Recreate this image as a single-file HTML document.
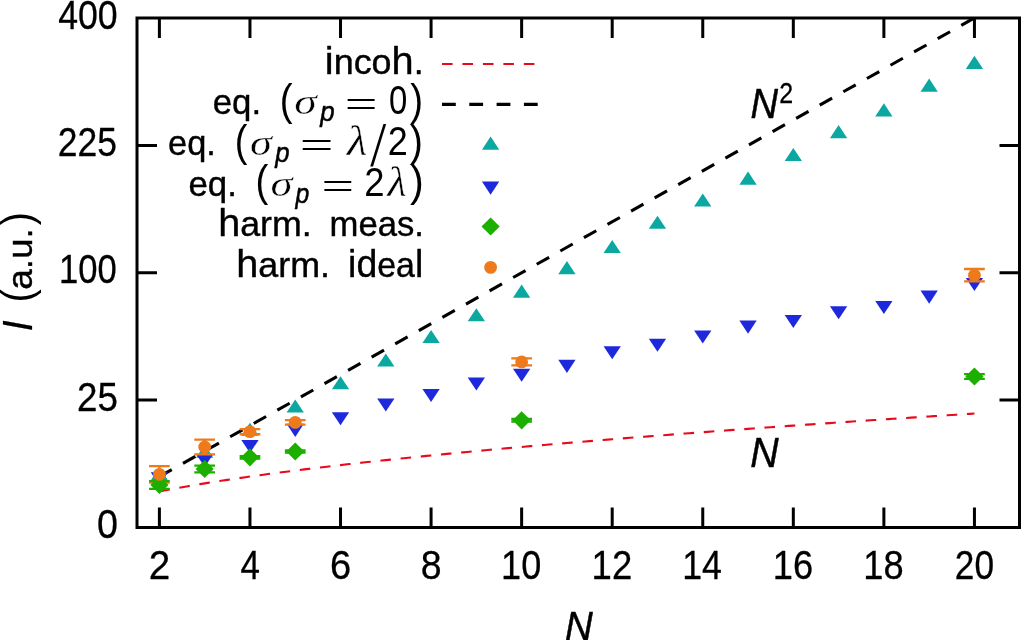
<!DOCTYPE html>
<html><head><meta charset="utf-8"><title>plot</title>
<style>html,body{margin:0;padding:0;background:#fff}svg{display:block}</style></head>
<body><svg width="1021" height="640" viewBox="0 0 1021 640">
<rect width="1021" height="640" fill="#fff"/>
<polyline fill="none" stroke="#e80a1c" stroke-width="2.1" stroke-dasharray="10.6 9.69" points="159.40,491.47 163.93,490.58 168.46,489.71 172.98,488.87 177.51,488.03 182.04,487.22 186.57,486.42 191.10,485.64 195.62,484.87 200.15,484.12 204.68,483.38 209.21,482.65 213.74,481.93 218.26,481.22 222.79,480.53 227.32,479.84 231.85,479.16 236.38,478.50 240.90,477.84 245.43,477.19 249.96,476.55 254.49,475.92 259.02,475.29 263.54,474.67 268.07,474.06 272.60,473.46 277.13,472.86 281.66,472.27 286.18,471.69 290.71,471.11 295.24,470.54 299.77,469.97 304.30,469.41 308.82,468.85 313.35,468.30 317.88,467.76 322.41,467.22 326.94,466.68 331.46,466.15 335.99,465.62 340.52,465.10 345.05,464.58 349.58,464.07 354.10,463.56 358.63,463.05 363.16,462.55 367.69,462.05 372.22,461.56 376.74,461.07 381.27,460.58 385.80,460.10 390.33,459.62 394.86,459.14 399.38,458.67 403.91,458.20 408.44,457.73 412.97,457.27 417.50,456.81 422.02,456.35 426.55,455.90 431.08,455.45 435.61,455.00 440.14,454.55 444.66,454.11 449.19,453.67 453.72,453.23 458.25,452.79 462.78,452.36 467.30,451.93 471.83,451.50 476.36,451.08 480.89,450.65 485.42,450.23 489.94,449.81 494.47,449.40 499.00,448.98 503.53,448.57 508.06,448.16 512.58,447.75 517.11,447.34 521.64,446.94 526.17,446.54 530.70,446.14 535.22,445.74 539.75,445.35 544.28,444.95 548.81,444.56 553.34,444.17 557.86,443.78 562.39,443.39 566.92,443.01 571.45,442.63 575.98,442.24 580.50,441.86 585.03,441.49 589.56,441.11 594.09,440.74 598.62,440.36 603.14,439.99 607.67,439.62 612.20,439.25 616.73,438.89 621.26,438.52 625.78,438.16 630.31,437.79 634.84,437.43 639.37,437.07 643.90,436.71 648.42,436.36 652.95,436.00 657.48,435.65 662.01,435.30 666.54,434.94 671.06,434.59 675.59,434.25 680.12,433.90 684.65,433.55 689.18,433.21 693.70,432.86 698.23,432.52 702.76,432.18 707.29,431.84 711.82,431.50 716.34,431.17 720.87,430.83 725.40,430.49 729.93,430.16 734.46,429.83 738.98,429.50 743.51,429.17 748.04,428.84 752.57,428.51 757.10,428.18 761.62,427.85 766.15,427.53 770.68,427.20 775.21,426.88 779.74,426.56 784.26,426.24 788.79,425.92 793.32,425.60 797.85,425.28 802.38,424.97 806.90,424.65 811.43,424.33 815.96,424.02 820.49,423.71 825.02,423.39 829.54,423.08 834.07,422.77 838.60,422.46 843.13,422.16 847.66,421.85 852.18,421.54 856.71,421.24 861.24,420.93 865.77,420.63 870.30,420.32 874.82,420.02 879.35,419.72 883.88,419.42 888.41,419.12 892.94,418.82 897.46,418.52 901.99,418.22 906.52,417.93 911.05,417.63 915.58,417.34 920.10,417.04 924.63,416.75 929.16,416.46 933.69,416.17 938.22,415.87 942.74,415.58 947.27,415.29 951.80,415.01 956.33,414.72 960.86,414.43 965.38,414.14 969.91,413.86 974.44,413.57"/>
<line x1="159.40" y1="476.55" x2="974.44" y2="18.00" stroke="#000" stroke-width="3.1" stroke-dasharray="14.2 12.86"/>
<polygon fill="#0aa8a0" points="159.40,467.30 150.75,480.40 168.05,480.40"/>
<polygon fill="#0aa8a0" points="204.68,444.60 196.03,457.70 213.33,457.70"/>
<polygon fill="#0aa8a0" points="249.96,422.70 241.31,435.80 258.61,435.80"/>
<polygon fill="#0aa8a0" points="295.24,399.40 286.59,412.50 303.89,412.50"/>
<polygon fill="#0aa8a0" points="340.52,376.20 331.87,389.30 349.17,389.30"/>
<polygon fill="#0aa8a0" points="385.80,353.40 377.15,366.50 394.45,366.50"/>
<polygon fill="#0aa8a0" points="431.08,329.90 422.43,343.00 439.73,343.00"/>
<polygon fill="#0aa8a0" points="476.36,308.20 467.71,321.30 485.01,321.30"/>
<polygon fill="#0aa8a0" points="521.64,284.60 512.99,297.70 530.29,297.70"/>
<polygon fill="#0aa8a0" points="566.92,261.10 558.27,274.20 575.57,274.20"/>
<polygon fill="#0aa8a0" points="612.20,240.00 603.55,253.10 620.85,253.10"/>
<polygon fill="#0aa8a0" points="657.48,215.70 648.83,228.80 666.13,228.80"/>
<polygon fill="#0aa8a0" points="702.76,193.40 694.11,206.50 711.41,206.50"/>
<polygon fill="#0aa8a0" points="748.04,171.60 739.39,184.70 756.69,184.70"/>
<polygon fill="#0aa8a0" points="793.32,148.00 784.67,161.10 801.97,161.10"/>
<polygon fill="#0aa8a0" points="838.60,125.10 829.95,138.20 847.25,138.20"/>
<polygon fill="#0aa8a0" points="883.88,103.30 875.23,116.40 892.53,116.40"/>
<polygon fill="#0aa8a0" points="929.16,78.60 920.51,91.70 937.81,91.70"/>
<polygon fill="#0aa8a0" points="974.44,55.80 965.79,68.90 983.09,68.90"/>
<polygon fill="#1e28dc" points="159.40,485.30 150.75,472.20 168.05,472.20"/>
<polygon fill="#1e28dc" points="204.68,467.10 196.03,454.00 213.33,454.00"/>
<polygon fill="#1e28dc" points="249.96,453.00 241.31,439.90 258.61,439.90"/>
<polygon fill="#1e28dc" points="295.24,436.90 286.59,423.80 303.89,423.80"/>
<polygon fill="#1e28dc" points="340.52,425.30 331.87,412.20 349.17,412.20"/>
<polygon fill="#1e28dc" points="385.80,411.50 377.15,398.40 394.45,398.40"/>
<polygon fill="#1e28dc" points="431.08,402.10 422.43,389.00 439.73,389.00"/>
<polygon fill="#1e28dc" points="476.36,390.60 467.71,377.50 485.01,377.50"/>
<polygon fill="#1e28dc" points="521.64,381.80 512.99,368.70 530.29,368.70"/>
<polygon fill="#1e28dc" points="566.92,372.90 558.27,359.80 575.57,359.80"/>
<polygon fill="#1e28dc" points="612.20,359.30 603.55,346.20 620.85,346.20"/>
<polygon fill="#1e28dc" points="657.48,351.80 648.83,338.70 666.13,338.70"/>
<polygon fill="#1e28dc" points="702.76,343.60 694.11,330.50 711.41,330.50"/>
<polygon fill="#1e28dc" points="748.04,333.70 739.39,320.60 756.69,320.60"/>
<polygon fill="#1e28dc" points="793.32,328.10 784.67,315.00 801.97,315.00"/>
<polygon fill="#1e28dc" points="838.60,319.30 829.95,306.20 847.25,306.20"/>
<polygon fill="#1e28dc" points="883.88,314.10 875.23,301.00 892.53,301.00"/>
<polygon fill="#1e28dc" points="929.16,303.70 920.51,290.60 937.81,290.60"/>
<polygon fill="#1e28dc" points="974.44,291.10 965.79,278.00 983.09,278.00"/>
<path fill="none" stroke="#ee7a1c" stroke-width="2.3" d="M159.40 466.10V482.70M149.05 466.10H169.75M149.05 482.70H169.75"/>
<path fill="none" stroke="#ee7a1c" stroke-width="2.3" d="M204.68 439.60V454.40M194.33 439.60H215.03M194.33 454.40H215.03"/>
<path fill="none" stroke="#ee7a1c" stroke-width="2.3" d="M249.96 429.15V434.25M239.61 429.15H260.31M239.61 434.25H260.31"/>
<path fill="none" stroke="#ee7a1c" stroke-width="2.3" d="M295.24 420.10V424.70M284.89 420.10H305.59M284.89 424.70H305.59"/>
<path fill="none" stroke="#ee7a1c" stroke-width="2.3" d="M521.64 358.40V365.40M511.29 358.40H531.99M511.29 365.40H531.99"/>
<path fill="none" stroke="#ee7a1c" stroke-width="2.3" d="M974.44 269.00V281.40M964.09 269.00H984.79M964.09 281.40H984.79"/>
<path fill="none" stroke="#1caf00" stroke-width="2.3" d="M159.40 481.20V488.80M149.05 481.20H169.75M149.05 488.80H169.75"/>
<polygon fill="#1caf00" points="159.40,475.90 168.50,485.00 159.40,494.10 150.30,485.00"/>
<path fill="none" stroke="#1caf00" stroke-width="2.3" d="M204.68 465.60V472.40M194.33 465.60H215.03M194.33 472.40H215.03"/>
<polygon fill="#1caf00" points="204.68,459.90 213.78,469.00 204.68,478.10 195.58,469.00"/>
<path fill="none" stroke="#1caf00" stroke-width="2.3" d="M249.96 456.10V458.50M239.61 456.10H260.31M239.61 458.50H260.31"/>
<polygon fill="#1caf00" points="249.96,448.20 259.06,457.30 249.96,466.40 240.86,457.30"/>
<path fill="none" stroke="#1caf00" stroke-width="2.3" d="M295.24 450.40V452.60M284.89 450.40H305.59M284.89 452.60H305.59"/>
<polygon fill="#1caf00" points="295.24,442.40 304.34,451.50 295.24,460.60 286.14,451.50"/>
<path fill="none" stroke="#1caf00" stroke-width="2.3" d="M521.64 419.00V421.60M511.29 419.00H531.99M511.29 421.60H531.99"/>
<polygon fill="#1caf00" points="521.64,411.20 530.74,420.30 521.64,429.40 512.54,420.30"/>
<path fill="none" stroke="#1caf00" stroke-width="2.3" d="M974.44 374.15V378.85M964.09 374.15H984.79M964.09 378.85H984.79"/>
<polygon fill="#1caf00" points="974.44,367.40 983.54,376.50 974.44,385.60 965.34,376.50"/>
<circle cx="159.40" cy="474.40" r="6.4" fill="#ee7a1c"/>
<circle cx="204.68" cy="447.00" r="6.4" fill="#ee7a1c"/>
<circle cx="249.96" cy="431.70" r="6.4" fill="#ee7a1c"/>
<circle cx="295.24" cy="422.40" r="6.4" fill="#ee7a1c"/>
<circle cx="521.64" cy="361.90" r="6.4" fill="#ee7a1c"/>
<circle cx="974.44" cy="275.20" r="6.4" fill="#ee7a1c"/>
<line x1="442.0" y1="64.0" x2="539.5" y2="64.0" stroke="#e80a1c" stroke-width="2.1" stroke-dasharray="10.6 9.85"/>
<line x1="442.0" y1="104.4" x2="539.5" y2="104.4" stroke="#000" stroke-width="3.1" stroke-dasharray="13.8 13.5"/>
<polygon fill="#0aa8a0" points="490.60,136.60 481.95,149.70 499.25,149.70"/>
<polygon fill="#1e28dc" points="490.60,194.70 481.95,181.60 499.25,181.60"/>
<polygon fill="#1caf00" points="490.60,217.40 499.70,226.50 490.60,235.60 481.50,226.50"/>
<circle cx="490.60" cy="267.40" r="6.4" fill="#ee7a1c"/>
<rect x="137.0" y="18.0" width="882.5" height="509.5" fill="none" stroke="#000" stroke-width="3"/>
<path fill="none" stroke="#000" stroke-width="3" d="M159.40 527.5v-20M159.40 18.0v20M249.96 527.5v-20M249.96 18.0v20M340.52 527.5v-20M340.52 18.0v20M431.08 527.5v-20M431.08 18.0v20M521.64 527.5v-20M521.64 18.0v20M612.20 527.5v-20M612.20 18.0v20M702.76 527.5v-20M702.76 18.0v20M793.32 527.5v-20M793.32 18.0v20M883.88 527.5v-20M883.88 18.0v20M974.44 527.5v-20M974.44 18.0v20M137.0 400.12h20M1019.5 400.12h-20M137.0 272.75h20M1019.5 272.75h-20M137.0 145.38h20M1019.5 145.38h-20"/>
<text transform="translate(58.13 28.50) scale(0.8917 1.0000)" font-family="Liberation Sans, sans-serif" font-size="40" fill="#000" stroke="#000" stroke-width="0.3" stroke-linejoin="round">400</text>
<text transform="translate(57.77 155.90) scale(0.8866 1.0000)" font-family="Liberation Sans, sans-serif" font-size="40" fill="#000" stroke="#000" stroke-width="0.3" stroke-linejoin="round">225</text>
<text transform="translate(59.12 283.30) scale(0.8643 1.0000)" font-family="Liberation Sans, sans-serif" font-size="40" fill="#000" stroke="#000" stroke-width="0.3" stroke-linejoin="round">100</text>
<text transform="translate(77.10 410.60) scale(0.9191 1.0000)" font-family="Liberation Sans, sans-serif" font-size="40" fill="#000" stroke="#000" stroke-width="0.3" stroke-linejoin="round">25</text>
<text transform="translate(96.98 538.20) scale(0.9414 1.0000)" font-family="Liberation Sans, sans-serif" font-size="40" fill="#000" stroke="#000" stroke-width="0.3" stroke-linejoin="round">0</text>
<text transform="translate(148.86 579.20) scale(0.9658 1.0000)" font-family="Liberation Sans, sans-serif" font-size="40" fill="#000" stroke="#000" stroke-width="0.3" stroke-linejoin="round">2</text>
<text transform="translate(240.56 579.20) scale(0.8732 1.0000)" font-family="Liberation Sans, sans-serif" font-size="40" fill="#000" stroke="#000" stroke-width="0.3" stroke-linejoin="round">4</text>
<text transform="translate(329.98 579.20) scale(0.9536 1.0000)" font-family="Liberation Sans, sans-serif" font-size="40" fill="#000" stroke="#000" stroke-width="0.3" stroke-linejoin="round">6</text>
<text transform="translate(420.85 579.20) scale(0.9377 1.0000)" font-family="Liberation Sans, sans-serif" font-size="40" fill="#000" stroke="#000" stroke-width="0.3" stroke-linejoin="round">8</text>
<text transform="translate(501.09 579.20) scale(0.9026 1.0000)" font-family="Liberation Sans, sans-serif" font-size="40" fill="#000" stroke="#000" stroke-width="0.3" stroke-linejoin="round">10</text>
<text transform="translate(591.62 579.20) scale(0.9129 1.0000)" font-family="Liberation Sans, sans-serif" font-size="40" fill="#000" stroke="#000" stroke-width="0.3" stroke-linejoin="round">12</text>
<text transform="translate(682.24 579.20) scale(0.8939 1.0000)" font-family="Liberation Sans, sans-serif" font-size="40" fill="#000" stroke="#000" stroke-width="0.3" stroke-linejoin="round">14</text>
<text transform="translate(772.76 579.20) scale(0.9071 1.0000)" font-family="Liberation Sans, sans-serif" font-size="40" fill="#000" stroke="#000" stroke-width="0.3" stroke-linejoin="round">16</text>
<text transform="translate(863.32 579.20) scale(0.9066 1.0000)" font-family="Liberation Sans, sans-serif" font-size="40" fill="#000" stroke="#000" stroke-width="0.3" stroke-linejoin="round">18</text>
<text transform="translate(954.87 579.20) scale(0.8798 1.0000)" font-family="Liberation Sans, sans-serif" font-size="40" fill="#000" stroke="#000" stroke-width="0.3" stroke-linejoin="round">20</text>
<text transform="translate(564.92 639.70) scale(0.9264 1.0000)" font-family="Liberation Sans, sans-serif" font-size="41.5" font-style="italic" fill="#000" stroke="#000" stroke-width="0.5" stroke-linejoin="round">N</text>
<text transform="translate(31.80 331.15) rotate(-90) scale(0.9333 1.0000)" font-family="Liberation Sans, sans-serif" font-size="42" font-style="italic" fill="#000" stroke="#000" stroke-width="0.2" stroke-linejoin="round">I</text>
<text transform="translate(32.00 302.48) rotate(-90) scale(0.8884 1.0000)" font-family="Liberation Sans, sans-serif" font-size="45" fill="#000">(</text>
<text transform="translate(32.30 289.77) rotate(-90) scale(1.0620 1.0000)" font-family="Liberation Sans, sans-serif" font-size="34.8" fill="#000" stroke="#000" stroke-width="0.4" stroke-linejoin="round">a.u.</text>
<text transform="translate(32.00 225.23) rotate(-90) scale(0.8800 1.0000)" font-family="Liberation Sans, sans-serif" font-size="45" fill="#000">)</text>
<text transform="translate(750.53 117.50) scale(0.9042 1.0000)" font-family="Liberation Sans, sans-serif" font-size="42.2" font-style="italic" fill="#000" stroke="#000" stroke-width="0.5" stroke-linejoin="round">N</text>
<text transform="translate(779.14 102.50) scale(0.8629 1.0000)" font-family="Liberation Sans, sans-serif" font-size="29" fill="#000" stroke="#000" stroke-width="0.3" stroke-linejoin="round">2</text>
<text transform="translate(750.29 466.60) scale(0.9316 1.0000)" font-family="Liberation Sans, sans-serif" font-size="42.2" font-style="italic" fill="#000" stroke="#000" stroke-width="0.5" stroke-linejoin="round">N</text>
<text transform="translate(324.84 73.80) scale(1.0323 1.0000)" font-family="Liberation Sans, sans-serif" font-size="38.5" fill="#000" stroke="#000" stroke-width="0.4" stroke-linejoin="round"><tspan font-size="38.5">i</tspan><tspan font-size="34.8">nco</tspan><tspan font-size="38.5">h</tspan><tspan font-size="34.8">.</tspan></text>
<text transform="translate(218.16 236.40) scale(1.0274 1.0000)" font-family="Liberation Sans, sans-serif" font-size="38.5" fill="#000" stroke="#000" stroke-width="0.4" stroke-linejoin="round"><tspan font-size="38.5">h</tspan><tspan font-size="34.8">arm.</tspan></text>
<text transform="translate(329.50 236.40) scale(0.9969 1.0000)" font-family="Liberation Sans, sans-serif" font-size="34.8" fill="#000" stroke="#000" stroke-width="0.4" stroke-linejoin="round">meas.</text>
<text transform="translate(236.25 277.10) scale(1.0298 1.0000)" font-family="Liberation Sans, sans-serif" font-size="38.5" fill="#000" stroke="#000" stroke-width="0.4" stroke-linejoin="round"><tspan font-size="38.5">h</tspan><tspan font-size="34.8">arm.</tspan></text>
<text transform="translate(348.09 277.10) scale(0.9740 1.0000)" font-family="Liberation Sans, sans-serif" font-size="38.5" fill="#000" stroke="#000" stroke-width="0.4" stroke-linejoin="round"><tspan font-size="38.5">id</tspan><tspan font-size="34.8">ea</tspan><tspan font-size="38.5">l</tspan></text>
<text transform="translate(212.72 114.40) scale(0.9995 1.0000)" font-family="Liberation Sans, sans-serif" font-size="34.8" fill="#000" stroke="#000" stroke-width="0.4" stroke-linejoin="round">eq.</text>
<text transform="translate(279.81 114.90) scale(0.8743 1.0000)" font-family="Liberation Sans, sans-serif" font-size="44" fill="#000">(</text>
<text transform="translate(294.34 114.40) scale(1.2679 1.0000)" font-family="Liberation Serif, serif" font-size="36" font-style="italic" fill="#000" stroke="#fff" stroke-width="0.4">σ</text>
<text transform="translate(320.24 121.30) scale(0.9408 1.0000)" font-family="Liberation Sans, sans-serif" font-size="27.5" font-style="italic" fill="#000" stroke="#000" stroke-width="0.5" stroke-linejoin="round">p</text>
<text transform="translate(344.71 117.40) scale(1.5682 1.0000)" font-family="Liberation Serif, serif" font-size="37" fill="#000">=</text>
<text transform="translate(389.12 114.40) scale(0.8211 1.0000)" font-family="Liberation Sans, sans-serif" font-size="40" fill="#000">0</text>
<text transform="translate(410.37 114.90) scale(0.8743 1.0000)" font-family="Liberation Sans, sans-serif" font-size="44" fill="#000">)</text>
<text transform="translate(168.04 155.10) scale(0.9881 1.0000)" font-family="Liberation Sans, sans-serif" font-size="34.8" fill="#000" stroke="#000" stroke-width="0.4" stroke-linejoin="round">eq.</text>
<text transform="translate(234.84 155.60) scale(0.8658 1.0000)" font-family="Liberation Sans, sans-serif" font-size="44" fill="#000">(</text>
<text transform="translate(249.88 155.10) scale(1.2343 1.0000)" font-family="Liberation Serif, serif" font-size="36" font-style="italic" fill="#000" stroke="#fff" stroke-width="0.4">σ</text>
<text transform="translate(275.14 162.00) scale(0.9342 1.0000)" font-family="Liberation Sans, sans-serif" font-size="27.5" font-style="italic" fill="#000" stroke="#000" stroke-width="0.5" stroke-linejoin="round">p</text>
<text transform="translate(299.82 158.10) scale(1.6147 1.0000)" font-family="Liberation Serif, serif" font-size="37" fill="#000">=</text>
<text transform="translate(346.94 155.10) scale(1.1117 1.0000)" font-family="Liberation Serif, serif" font-size="42" font-style="italic" fill="#000" stroke="#fff" stroke-width="0.4">λ</text>
<text transform="translate(370.20 165.50) scale(0.9084 1.0000)" font-family="Liberation Serif, serif" font-size="63" fill="#000">/</text>
<text transform="translate(387.79 155.10) scale(0.9000 1.0000)" font-family="Liberation Sans, sans-serif" font-size="40" fill="#000">2</text>
<text transform="translate(409.77 155.60) scale(0.9001 1.0000)" font-family="Liberation Sans, sans-serif" font-size="44" fill="#000">)</text>
<text transform="translate(188.52 195.70) scale(0.9995 1.0000)" font-family="Liberation Sans, sans-serif" font-size="34.8" fill="#000" stroke="#000" stroke-width="0.4" stroke-linejoin="round">eq.</text>
<text transform="translate(255.51 196.20) scale(0.8743 1.0000)" font-family="Liberation Sans, sans-serif" font-size="44" fill="#000">(</text>
<text transform="translate(270.47 195.70) scale(1.2399 1.0000)" font-family="Liberation Serif, serif" font-size="36" font-style="italic" fill="#000" stroke="#fff" stroke-width="0.4">σ</text>
<text transform="translate(295.42 202.60) scale(0.9011 1.0000)" font-family="Liberation Sans, sans-serif" font-size="27.5" font-style="italic" fill="#000" stroke="#000" stroke-width="0.5" stroke-linejoin="round">p</text>
<text transform="translate(321.62 198.70) scale(1.5624 1.0000)" font-family="Liberation Serif, serif" font-size="37" fill="#000">=</text>
<text transform="translate(364.27 195.70) scale(0.9110 1.0000)" font-family="Liberation Sans, sans-serif" font-size="40" fill="#000">2</text>
<text transform="translate(387.58 195.70) scale(1.0512 1.0000)" font-family="Liberation Serif, serif" font-size="42" font-style="italic" fill="#000" stroke="#fff" stroke-width="0.4">λ</text>
<text transform="translate(409.96 196.20) scale(0.9429 1.0000)" font-family="Liberation Sans, sans-serif" font-size="44" fill="#000">)</text>
</svg></body></html>
